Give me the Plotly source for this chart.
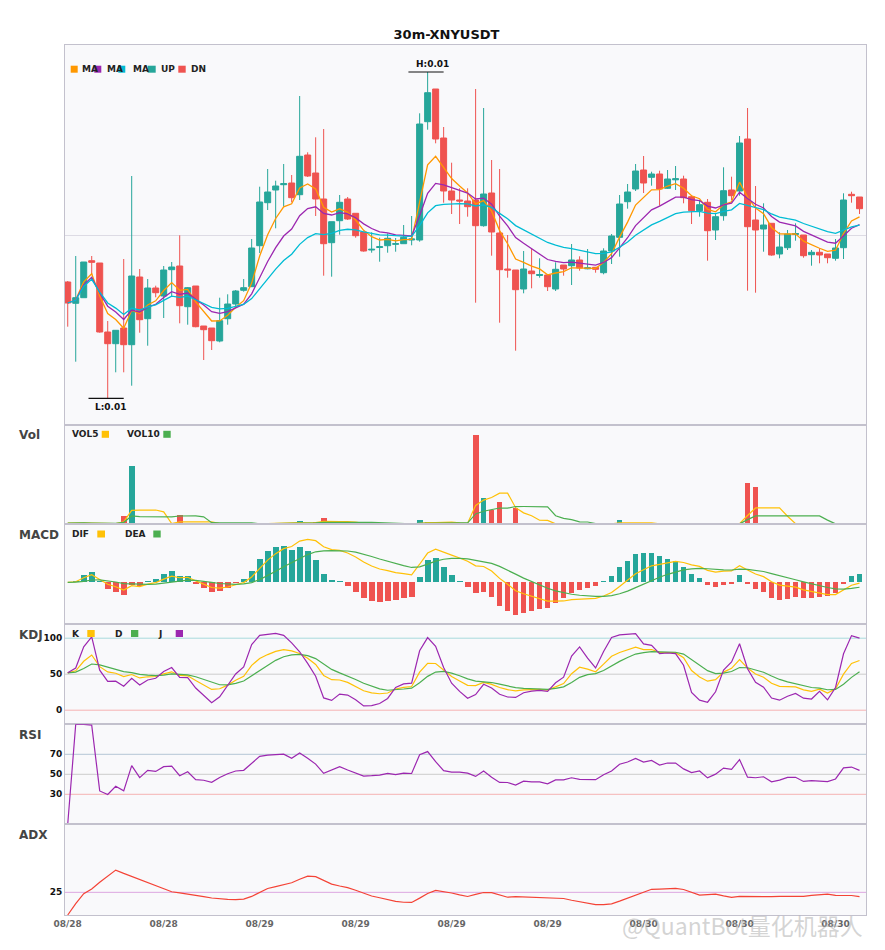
import numpy as np
import pandas as pd
import plotly.graph_objects as go
from plotly.subplots import make_subplots

title_text = "30m-XNYUSDT"
times = pd.date_range("2024-08-28 13:00", periods=100, freq="30min")

opens = [0.01053, 0.010317, 0.010373, 0.010743, 0.01072, 0.01003, 0.009913, 0.01007, 0.009903, 0.01058,
         0.010163, 0.01047, 0.01039, 0.010653, 0.01069, 0.010283, 0.01049, 0.01009, 0.01007, 0.00994,
         0.010163, 0.01031, 0.010447, 0.010483, 0.010893, 0.011323, 0.01145, 0.011503, 0.01152, 0.011403,
         0.0118, 0.01162, 0.01136, 0.010923, 0.011143, 0.01136, 0.011217, 0.01103, 0.01085, 0.010875,
         0.010893, 0.010907, 0.010913, 0.01095, 0.01095, 0.012133, 0.01246, 0.01197, 0.01144, 0.01135,
         0.01134, 0.01135, 0.011093, 0.01142, 0.01102, 0.01066, 0.01065, 0.01046, 0.01064, 0.010595,
         0.0106, 0.01046, 0.0107, 0.010693, 0.01075, 0.010662, 0.010677, 0.010623, 0.01084, 0.010977,
         0.011333, 0.01146, 0.01165, 0.011577, 0.01161, 0.011467, 0.011552, 0.01156, 0.011383, 0.011243,
         0.011327, 0.01105, 0.011193, 0.01145, 0.01144, 0.01196, 0.01115, 0.01106, 0.011117, 0.01081,
         0.010873, 0.011005, 0.011, 0.010803, 0.010827, 0.01081, 0.010767, 0.010873, 0.011407, 0.01138]
highs = [0.01054, 0.01079, 0.01073, 0.01079, 0.01072, 0.01014, 0.01005, 0.01076, 0.01159, 0.01066,
         0.01056, 0.010493, 0.01069, 0.01073, 0.010997, 0.01048, 0.01049, 0.01009, 0.01007, 0.010373,
         0.010407, 0.01045, 0.01056, 0.01096, 0.011483, 0.01166, 0.011543, 0.01171, 0.0116, 0.01239,
         0.011827, 0.011977, 0.01206, 0.011133, 0.0114, 0.01138, 0.011217, 0.01103, 0.011027, 0.010973,
         0.011017, 0.01097, 0.0111, 0.01119, 0.012217, 0.01263, 0.01246, 0.01208, 0.011723, 0.011467,
         0.011467, 0.01246, 0.01227, 0.01175, 0.01166, 0.011, 0.01065, 0.01084, 0.01086, 0.010767,
         0.0106, 0.010727, 0.0107, 0.01091, 0.010787, 0.01086, 0.010677, 0.010867, 0.01101, 0.0114,
         0.01151, 0.01171, 0.01179, 0.011633, 0.011643, 0.01165, 0.01169, 0.011593, 0.0114, 0.01135,
         0.01136, 0.01121, 0.011677, 0.011583, 0.01199, 0.01227, 0.01149, 0.011317, 0.011117, 0.011027,
         0.01105, 0.011117, 0.011, 0.01085, 0.010867, 0.01081, 0.01096, 0.011417, 0.011433, 0.01138]
lows = [0.010083, 0.009733, 0.010373, 0.0106, 0.010023, 0.009367, 0.009627, 0.009627, 0.009493, 0.010023,
        0.009893, 0.010377, 0.01017, 0.010383, 0.010117, 0.010103, 0.010077, 0.00975, 0.00985, 0.009927,
        0.010103, 0.010283, 0.010433, 0.01048, 0.01082, 0.01125, 0.011067, 0.011283, 0.011327, 0.01135,
        0.01158, 0.01119, 0.010593, 0.010583, 0.011003, 0.01115, 0.010973, 0.010833, 0.010823, 0.010733,
        0.010823, 0.010833, 0.010913, 0.010897, 0.010933, 0.012053, 0.011917, 0.011323, 0.01121, 0.01111,
        0.011183, 0.010323, 0.011083, 0.010793, 0.010123, 0.010573, 0.009843, 0.010417, 0.010467, 0.010573,
        0.01044, 0.01044, 0.010593, 0.0105, 0.010643, 0.010657, 0.010623, 0.010607, 0.01071, 0.010783,
        0.011263, 0.01144, 0.01142, 0.011493, 0.011293, 0.01146, 0.01145, 0.011317, 0.01111, 0.011183,
        0.010743, 0.01095, 0.011143, 0.01135, 0.011393, 0.010443, 0.010423, 0.010833, 0.010793, 0.010767,
        0.01085, 0.010943, 0.010773, 0.010693, 0.010717, 0.010717, 0.010743, 0.01076, 0.011323, 0.01121]
closes = [0.01032, 0.010373, 0.01073, 0.010727, 0.01003, 0.009913, 0.010047, 0.009903, 0.01059, 0.010153,
          0.01047, 0.010423, 0.01065, 0.01068, 0.010293, 0.010473, 0.010083, 0.010053, 0.009943, 0.010143,
          0.01031, 0.01044, 0.010473, 0.01087, 0.01133, 0.01143, 0.01149, 0.011513, 0.011373, 0.011787,
          0.01159, 0.01136, 0.010913, 0.011133, 0.011327, 0.01116, 0.010993, 0.01084, 0.010857, 0.010883,
          0.010967, 0.010913, 0.010977, 0.01096, 0.01211, 0.012423, 0.01196, 0.01144, 0.01135, 0.01134,
          0.011283, 0.011093, 0.01141, 0.01103, 0.010653, 0.01065, 0.010453, 0.01066, 0.010613, 0.010605,
          0.010483, 0.010657, 0.01066, 0.01075, 0.01067, 0.010672, 0.010657, 0.01084, 0.01099, 0.01131,
          0.01143, 0.01164, 0.01152, 0.01161, 0.01146, 0.01156, 0.011562, 0.011373, 0.011243, 0.011303,
          0.011043, 0.011183, 0.011443, 0.011393, 0.01192, 0.011083, 0.01105, 0.0111, 0.0108, 0.01088,
          0.01101, 0.011015, 0.010793, 0.010827, 0.0108, 0.010773, 0.01087, 0.01135, 0.011393, 0.011263]
volumes = [13000, 20000, 7000, 7000, 7000, 7000, 5000, 93000, 590000, 20000,
           10000, 3000, 3000, 3000, 100000, 10000, 3000, 10000, 5000, 3000,
           3000, 3000, 3000, 5000, 5000, 20000, 20000, 5000, 5000, 40000,
           5000, 30000, 70000, 17000, 17000, 5000, 5000, 5000, 3000, 3000,
           3000, 3000, 3000, 3000, 50000, 30000, 5000, 5000, 20000, 13000,
           10000, 900000, 270000, 150000, 230000, 10000, 173000, 10000, 5000, 5000,
           3000, 3000, 3000, 20000, 5000, 5000, 3000, 5000, 5000, 50000,
           10000, 5000, 5000, 3000, 3000, 5000, 3000, 3000, 5000, 3000,
           10000, 3000, 10000, 3000, 5000, 420000, 380000, 10000, 5000, 5000,
           5000, 3000, 3000, 3000, 3000, 3000, 3000, 10000, 3000, 3000]

ma_periods = [5, 10, 20]
ma_colors = ["#ff9800", "#9c27b0", "#00bcd4"]
UP, DN = "#26a69a", "#ef5350"
tick_idx = list(range(0, len(times), 12))
tick_labels = [times[i].strftime("%m/%d") for i in tick_idx]

# ---- indicators (computed from the OHLCV above) ----
x = np.arange(len(closes))
c = pd.Series(closes); h = pd.Series(highs); l = pd.Series(lows)
v = pd.Series(volumes, dtype=float)
emas = [c.ewm(span=p).mean() for p in ma_periods]
vol5 = v.rolling(5, min_periods=1).mean()
vol10 = v.rolling(10, min_periods=1).mean()
dif = c.ewm(span=12, adjust=False).mean() - c.ewm(span=26, adjust=False).mean()
dea = dif.ewm(span=9, adjust=False).mean()
hist = 2 * (dif - dea)
low9 = l.rolling(9, min_periods=1).min(); high9 = h.rolling(9, min_periods=1).max()
rsv = (c - low9) / (high9 - low9) * 100
k = rsv.ewm(com=2, adjust=False).mean()
d = k.ewm(com=2, adjust=False).mean()
j = 3 * k - 2 * d
diff = c.diff()
gain = diff.clip(lower=0).ewm(com=13).mean()
loss = (-diff).clip(lower=0).ewm(com=13).mean()
rsi = (100 * gain / (gain + loss)).fillna(0)
upm = h.diff(); dnm = -l.diff()
pdm = pd.Series(np.where((upm > dnm) & (upm > 0), upm, 0.0))
mdm = pd.Series(np.where((dnm > upm) & (dnm > 0), dnm, 0.0))
pc = c.shift(1)
tr = pd.concat([h - l, (h - pc).abs(), (l - pc).abs()], axis=1).max(axis=1)
trs = tr.ewm(com=9).mean()
pdi = 100 * pdm.ewm(com=9).mean() / trs
mdi = 100 * mdm.ewm(com=9).mean() / trs
dx = (100 * (pdi - mdi).abs() / (pdi + mdi)).fillna(0)
adx = dx.ewm(alpha=1 / 8, adjust=False).mean()

# page is offset by the 8px body margin; size the figure so the plot sits where the reference has it
W, H = 877, 934
L_M, R_M, T_M, B_M = 57, 19, 37, 27
PW, PH = W - L_M - R_M, H - T_M - B_M
OFF = 8
def px(xp): return (xp - OFF - L_M) / PW
def py(yp): return (H - B_M - (yp - OFF)) / PH

fig = make_subplots(rows=6, cols=1, shared_xaxes=True, vertical_spacing=0)
fig.add_trace(go.Candlestick(x=x, open=opens, high=highs, low=lows, close=closes,
                             increasing=dict(line=dict(color=UP, width=1), fillcolor=UP),
                             decreasing=dict(line=dict(color=DN, width=1), fillcolor=DN),
                             whiskerwidth=0, hoverinfo="skip"), row=1, col=1)
for e, col in zip(emas, ma_colors):
    fig.add_trace(go.Scatter(x=x, y=e, mode="lines", line=dict(color=col, width=1.3)), row=1, col=1)

vcols = [UP if cc >= oo else DN for cc, oo in zip(closes, opens)]
fig.add_trace(go.Bar(x=x, y=volumes, marker=dict(color=vcols, line=dict(width=0)), width=0.72), row=2, col=1)
fig.add_trace(go.Scatter(x=x, y=vol5, mode="lines", line=dict(color="#ffc107", width=1.2)), row=2, col=1)
fig.add_trace(go.Scatter(x=x, y=vol10, mode="lines", line=dict(color="#4caf50", width=1.2)), row=2, col=1)

hcols = [UP if hv >= 0 else DN for hv in hist]
fig.add_trace(go.Bar(x=x, y=hist, marker=dict(color=hcols, line=dict(width=0)), width=0.72), row=3, col=1)
fig.add_trace(go.Scatter(x=x, y=dif, mode="lines", line=dict(color="#ffc107", width=1.2)), row=3, col=1)
fig.add_trace(go.Scatter(x=x, y=dea, mode="lines", line=dict(color="#4caf50", width=1.2)), row=3, col=1)

for ser, col in [(k, "#ffc107"), (d, "#4caf50"), (j, "#9c27b0")]:
    fig.add_trace(go.Scatter(x=x, y=ser, mode="lines", line=dict(color=col, width=1.2)), row=4, col=1)
fig.add_trace(go.Scatter(x=x, y=rsi, mode="lines", line=dict(color="#9c27b0", width=1.2)), row=5, col=1)
fig.add_trace(go.Scatter(x=x, y=adx, mode="lines", line=dict(color="#f44336", width=1.2)), row=6, col=1)

for row, yv, col in [(4, 100, "#a8dadc"), (4, 50, "#cccccc"), (4, 0, "#f6b3b3"),
                     (5, 70, "#b4c6d6"), (5, 50, "#cccccc"), (5, 30, "#f6b3b3"),
                     (6, 25, "#dda6e0")]:
    fig.add_hline(y=yv, line=dict(color=col, width=1), row=row, col=1, layer="below")

BORDER = "#c3c1cd"
fig.update_traces(showlegend=False, hoverinfo="skip")
fig.update_xaxes(range=[-0.34, 99.81], showgrid=False, zeroline=False, showline=True, mirror=True,
                 linecolor=BORDER, linewidth=1, ticks="", showticklabels=False,
                 tickvals=tick_idx, ticktext=tick_labels)
fig.update_xaxes(showticklabels=True, tickfont=dict(family="DejaVu Sans", size=9, color="#666666", weight="bold"),
                 row=6, col=1)
fig.update_xaxes(rangeslider_visible=False, row=1, col=1)
fig.update_yaxes(showline=True, mirror=True, linecolor=BORDER, linewidth=1, zeroline=False, ticks="",
                 showgrid=False, tickfont=dict(family="DejaVu Sans", size=9, color="#111111", weight="bold"))

doms = [(py(424.5), 1.0), (py(524.3), py(424.5)), (py(624.3), py(524.3)),
        (py(724.3), py(624.3)), (py(824.3), py(724.3)), (0.0, py(824.3))]
for i, dm in enumerate(doms):
    fig.update_yaxes(domain=[max(0.0, dm[0]), min(1.0, dm[1])], row=i + 1, col=1)
fig.update_yaxes(range=[(1335 - 424.5) / 1e5, (1335 - 45) / 1e5], tickvals=[0.011], showticklabels=False,
                 showgrid=True, gridcolor="#dddbe4", row=1, col=1)
fig.update_yaxes(range=[0, 1.0e6], showticklabels=False, row=2, col=1)
m = float(max(dif.max(), hist.max()))
fig.update_yaxes(range=[-m * 42 / 43, m * 58 / 43], showticklabels=False, row=3, col=1)
fig.update_yaxes(range=[-19.6, 119.3], tickvals=[0, 50, 100], row=4, col=1)
fig.update_yaxes(range=[0, 100], tickvals=[30, 50, 70], row=5, col=1)
fig.update_yaxes(range=[0, 100], tickvals=[25], row=6, col=1)

# H / L markers
ih = int(np.argmax(highs)); il = int(np.argmin(lows))
fig.add_shape(type="line", x0=ih - 2.4, x1=ih + 2.0, y0=highs[ih], y1=highs[ih], xref="x", yref="y",
              line=dict(color="#111111", width=1.2))
fig.add_shape(type="line", x0=il - 2.4, x1=il + 2.0, y0=lows[il], y1=lows[il], xref="x", yref="y",
              line=dict(color="#111111", width=1.2))
fig.add_annotation(x=ih + 0.6, y=highs[ih], xref="x", yref="y", text=f"H:{highs[ih]:.2f}", showarrow=False,
                   yshift=8, font=dict(family="DejaVu Sans", size=9, color="#111111", weight="bold"))
fig.add_annotation(x=il + 0.45, y=lows[il], xref="x", yref="y", text=f"L:{lows[il]:.2f}", showarrow=False,
                   yshift=-9, font=dict(family="DejaVu Sans", size=9, color="#111111", weight="bold"))

def label(text, xl, yc, size=9, color="#222222"):
    fig.add_annotation(x=px(xl), y=py(yc), xref="paper", yref="paper", text=text, showarrow=False,
                       xanchor="left", yanchor="middle",
                       font=dict(family="DejaVu Sans", size=size, color=color, weight="bold"))

def square(x0, x1, yc, color, s=7):
    fig.add_shape(type="rect", xref="paper", yref="paper", x0=px(x0), x1=px(x1),
                  y0=py(yc + s / 2), y1=py(yc - s / 2), fillcolor=color, line=dict(width=0), layer="above")

for name, yc in [("Vol", 435), ("MACD", 535), ("KDJ", 635), ("RSI", 735), ("ADX", 835)]:
    label(name, 16.5, yc, size=12, color="#444444")

for txt, xl in [("MA", 80.2), ("MA", 104.5), ("MA", 131.2), ("UP", 158.8), ("DN", 188.8)]:
    label(txt, xl, 69.2)
for (x0, x1), col in zip([(70.7, 77.7), (94.3, 101.3), (118.3, 125.3), (147.7, 155.7), (178.3, 185.7)],
                         ma_colors + [UP, DN]):
    square(x0, x1, 69.2, col)

label("VOL5", 69.5, 434.3); square(101.7, 109, 434.3, "#ffc107")
label("VOL10", 124.5, 434.3); square(163.3, 170.7, 434.3, "#4caf50")
label("DIF", 69.5, 534); square(97.3, 105, 534, "#ffc107")
label("DEA", 122.8, 534); square(153.3, 160.7, 534, "#4caf50")
label("K", 70.2, 633.5); square(87.3, 94.7, 633.5, "#ffc107")
label("D", 112.8, 633.5); square(131, 138.3, 633.5, "#4caf50")
label("J", 156.2, 633.5); square(175.7, 183, 633.5, "#9c27b0")

fig.add_annotation(x=px(620), y=py(925), xref="paper", yref="paper", text="@QuantBot量化机器人",
                   showarrow=False, xanchor="left", yanchor="middle",
                   font=dict(family="Noto Sans CJK SC", size=23, color="rgba(170,170,170,0.5)"))

fig.update_layout(width=W, height=H, margin=dict(l=L_M, r=R_M, t=T_M, b=B_M),
                  paper_bgcolor="white", plot_bgcolor="#f9f9fb", bargap=0, showlegend=False,
                  boxgap=0.25, boxgroupgap=0,
                  title=dict(text=title_text, x=0.5, xanchor="center", y=1 - (34 - OFF) / H, yanchor="middle",
                             font=dict(family="DejaVu Sans", size=13, color="#111111", weight="bold")),
                  font=dict(family="DejaVu Sans"))
fig.write_html("out.html")
